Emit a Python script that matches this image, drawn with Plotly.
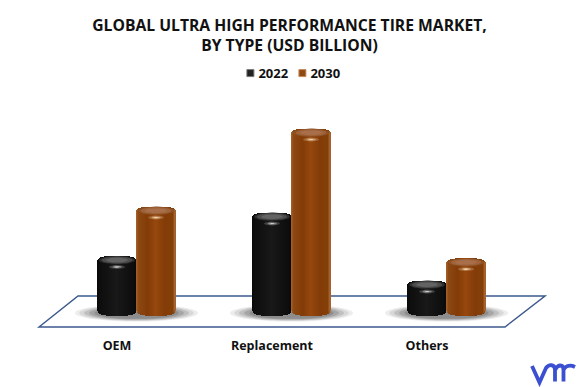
import numpy as np
import plotly.graph_objects as go

TITLE = "GLOBAL ULTRA HIGH PERFORMANCE TIRE MARKET,<br>BY TYPE (USD BILLION)"
categories = ["OEM", "Replacement", "Others"]
series_names = ["2022", "2030"]
values_2022 = [2.33, 4.5, 1.1]
values_2030 = [4.8, 8.7, 2.22]

W, H = 579, 387
PX_X = 155.0      # pixels per category
PX_Y = 20.0       # pixels per USD billion
X0, Y0 = 117.0, 308.0
TOP, BOTTOM = 100.0, 336.0
FONT = "Open Sans"

cat_x = np.arange(len(categories), dtype=float)
BAR_W = 39 / PX_X
STEP = 39 / PX_X
TOP_E = 6.5 / PX_Y
BOT_E = 8.0 / PX_Y
N = 39

black_stops = [(0, "#090909"), (.08, "#0e0e0e"), (.5, "#191919"), (.92, "#0e0e0e"), (1, "#0a0a0a")]
orange_stops = [(0, "#a9632c"), (.07, "#8c4812"), (.3, "#833c08"), (.5, "#97480e"),
                (.75, "#833c08"), (.94, "#854008"), (1, "#ab6a38")]
cap_layers = [[(1.0, .88, "#2e2e2e"), (.85, .72, "#4c4c4c"), (.6, .5, "#636363")],
              [(1.0, .88, "#8e5226"), (.85, .72, "#a0643c"), (.6, .5, "#a96f4a")]]
glint = ["rgba(255,255,255,0.75)", "rgba(255,235,200,0.9)"]


def hex2rgb(h):
    return np.array([int(h[i:i + 2], 16) for i in (1, 3, 5)], dtype=float)


def shade(stops, t):
    xs = [s[0] for s in stops]
    cs = np.array([hex2rgb(s[1]) for s in stops])
    return "rgb(%d,%d,%d)" % tuple(np.interp(t, xs, cs[:, i]) for i in range(3))


def ellipse(cx, cy, a, b, n=60):
    th = np.linspace(0, 2 * np.pi, n)
    return cx + a * np.cos(th), cy + b * np.sin(th)


def px_x(p):
    return p / W


def px_y(p):
    return 1 - p / H


fig = go.Figure()

shift = [0.0, STEP]
stops = [black_stops, orange_stops]
all_values = [values_2022, values_2030]

for s, vals in enumerate(all_values):
    vals = np.array(vals)
    # one thin bar per shaded strip gives the cylinder its curved outline
    for k in range(N):
        u = (k + 0.5) / N
        t = 2 * u - 1
        sup_top = (1 - abs(t) ** 3.0) ** (1 / 3.0)
        sup_bot = (1 - abs(t) ** 3.0) ** (1 / 3.0)
        top = vals + TOP_E * sup_top - 0.05
        base = -BOT_E * sup_bot
        fig.add_trace(go.Bar(
            x=cat_x, y=top - base, base=base,
            offset=shift[s] - BAR_W / 2 + k / N * BAR_W,
            width=BAR_W / N * 1.15,
            marker=dict(color=shade(stops[s], u), line=dict(width=0)),
            showlegend=False, hoverinfo="skip"))
    # cap and glint
    for c, v in zip(cat_x, vals):
        for ga, gb, col in cap_layers[s]:
            ex, ey = ellipse(c + shift[s], v + TOP_E * 0.2, BAR_W / 2 * 0.92 * ga, TOP_E * 0.72 * gb)
            fig.add_trace(go.Scatter(x=ex, y=ey, mode="lines", fill="toself",
                                     fillcolor=col, line=dict(width=0),
                                     showlegend=False, hoverinfo="skip"))
        for scale, op in ((1.0, .25), (.6, .5), (.3, 1)):
            gx, gy = ellipse(c + shift[s], v - TOP_E * 0.85, 8 / PX_X * scale, 2.0 / PX_Y * scale, 24)
            fig.add_trace(go.Scatter(x=gx, y=gy, mode="lines", fill="toself",
                                     fillcolor=glint[s], line=dict(width=0), opacity=op,
                                     showlegend=False, hoverinfo="skip"))
    # legend entry
    fig.add_trace(go.Scatter(
        x=[None], y=[None], mode="markers", name=series_names[s],
        marker=dict(symbol="square", size=7,
                    color=["#222222", "#8f4a12"][s],
                    line=dict(width=1, color=["#777777", "#c98a58"][s]))))

shapes = []
# floor
floor = [(39, 327), (78, 296), (545, 296), (505, 327)]
path = "M" + " L".join(f"{px_x(a):.5f},{px_y(b):.5f}" for a, b in floor) + " Z"
shapes.append(dict(type="path", xref="paper", yref="paper", layer="below", path=path,
                   line=dict(color="#3c5a8c", width=1.5)))
# soft shadows beneath each pair of columns
for c in cat_x:
    for grow, op in ((1.14, .12), (1.06, .16), (.97, .22), (.88, .3), (.78, .4)):
        a, b = 54 * grow / PX_X, 7.5 * grow / PX_Y
        cx, cy = c + STEP / 2, -5 / PX_Y
        shapes.append(dict(type="circle", xref="x", yref="y", layer="below",
                           x0=cx - a, x1=cx + a, y0=cy - b, y1=cy + b,
                           fillcolor="#6a6a6a", opacity=op, line=dict(width=0)))
# logo
logo_pts = "M{} L{} L{} C{} {} {} L{} M{} C{} {} {} L{} M{} C{} {} {}"
p = lambda a, b: f"{px_x(a):.5f},{px_y(b):.5f}"
logo = logo_pts.format(p(532, 366), p(539.5, 382.5), p(546, 368),
                       p(549, 364), p(555, 364), p(555, 370), p(555, 381.5),
                       p(555, 370), p(558, 364), p(563.5, 364), p(563.5, 370), p(563.5, 381.5),
                       p(563.5, 370), p(566, 365), p(571, 365), p(575, 367))
shapes.append(dict(type="path", xref="paper", yref="paper", path=logo,
                   line=dict(color="#3b4fd1", width=3.8)))

fig.update_layout(
    width=W, height=H, margin=dict(l=0, r=0, t=0, b=0),
    paper_bgcolor="white", plot_bgcolor="rgba(0,0,0,0)",
    barmode="overlay", bargap=0,
    font=dict(family=FONT, color="#111111"),
    title=dict(text=TITLE, x=0.5, xanchor="center", y=0.921, yanchor="top",
               font=dict(family=FONT, size=15.7, color="#111111", weight="bold")),
    legend=dict(orientation="h", x=0.467, xanchor="center", y=0.811, yanchor="middle",
                font=dict(family=FONT, size=13, color="#111111", weight="bold"),
                itemwidth=30, entrywidth=7, entrywidthmode="pixels",
                tracegroupgap=0, bgcolor="rgba(0,0,0,0)"),
    xaxis=dict(type="linear", range=[-X0 / PX_X, (W - X0) / PX_X], domain=[0, 1],
               tickvals=list(cat_x), ticktext=categories, showgrid=False, zeroline=False,
               showline=False, ticks="", ticklen=0,
               tickfont=dict(family=FONT, size=12.5, color="#111111", weight="bold")),
    yaxis=dict(range=[-(BOTTOM - Y0) / PX_Y, (Y0 - TOP) / PX_Y],
               domain=[1 - BOTTOM / H, 1 - TOP / H],
               showticklabels=False, showgrid=False, zeroline=False, showline=False, ticks=""),
    shapes=shapes,
)

fig.write_html("out.html", config={"displayModeBar": False},
               post_script="document.body.style.margin='0';"
                           "document.querySelectorAll('.legendsymbols').forEach("
                           "function(e){e.setAttribute('transform','translate(12,0)');});"
                           "document.querySelectorAll('.legend .scrollbox').forEach("
                           "function(e){e.removeAttribute('clip-path');});")
